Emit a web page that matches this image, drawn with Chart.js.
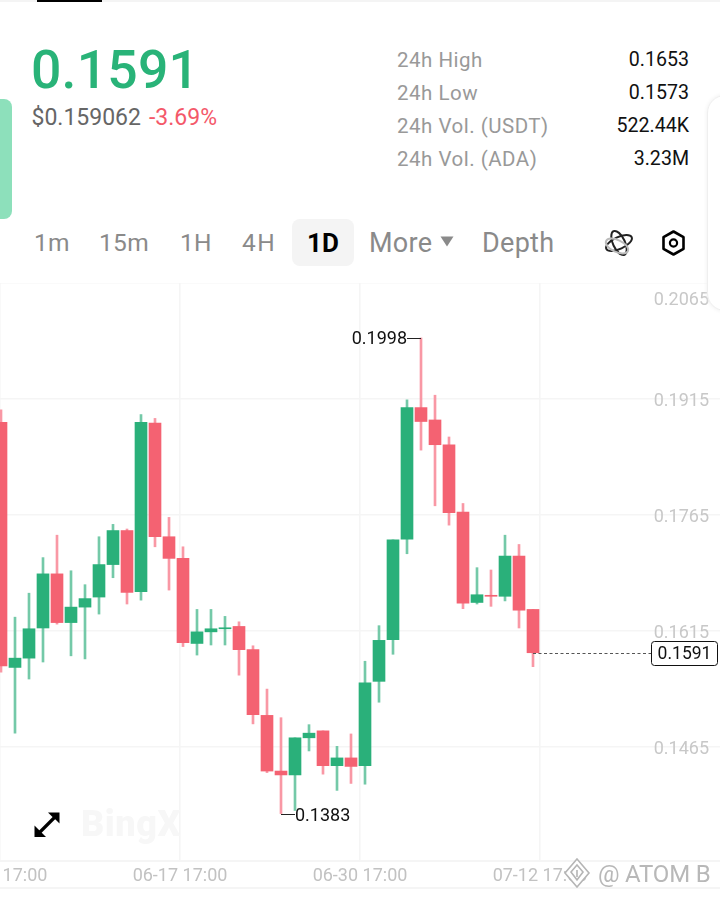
<!DOCTYPE html>
<html><head><meta charset="utf-8">
<script src="https://cdn.jsdelivr.net/npm/chart.js@4"></script>
<style>
html,body{margin:0;padding:0;background:#fff;width:720px;height:898px;overflow:hidden;font-family:Roboto,sans-serif}
.a{position:absolute;white-space:nowrap;line-height:1}
#wrap{position:absolute;left:0;top:283px;width:720px;height:604px}
.lab{left:397px;font-size:20.5px;color:#999;letter-spacing:.5px;transform:translateY(-50%)}
.val{right:31px;font-size:19.6px;color:#111;transform:translateY(-50%)}
.tab{top:243px;font-size:24.5px;color:#8a8a8a;letter-spacing:.3px;transform:translateY(-50%)}
.tab2{font-size:27px}
</style></head><body>
<div class="a" style="left:0;top:0;width:720px;height:2px;background:#f4f4f4"></div>
<div class="a" style="left:37px;top:0;width:65px;height:2px;background:#000"></div>
<div class="a" style="left:0;top:99px;width:12px;height:120px;background:#8de0bb;border-radius:0 8px 8px 0"></div>
<div class="a" style="left:31px;top:43px;font-size:53.5px;font-weight:500;color:#29b378;letter-spacing:.2px">0.1591</div>
<div class="a" style="left:31.5px;top:106px;font-size:23px;color:#666">$0.159062</div>
<div class="a" style="left:149px;top:106px;font-size:23px;color:#f4596a">-3.69%</div>
<div class="a lab" style="top:60px">24h High</div><div class="a val" style="top:60px">0.1653</div>
<div class="a lab" style="top:93px">24h Low</div><div class="a val" style="top:93px">0.1573</div>
<div class="a lab" style="top:126px">24h Vol. (USDT)</div><div class="a val" style="top:126px">522.44K</div>
<div class="a lab" style="top:159px">24h Vol. (ADA)</div><div class="a val" style="top:159px">3.23M</div>
<div class="a" style="left:292px;top:219px;width:62px;height:47px;background:#f4f4f4;border-radius:8px"></div>
<div class="a tab" style="left:34px">1m</div>
<div class="a tab" style="left:99px">15m</div>
<div class="a tab" style="left:180px">1H</div>
<div class="a tab" style="left:242px;letter-spacing:1.4px">4H</div>
<div class="a tab tab2" style="left:307px;color:#000;font-weight:700;letter-spacing:0;font-size:26px">1D</div>
<div class="a tab tab2" style="left:369px">More</div>
<svg class="a" style="left:440px;top:236px" width="14" height="11"><path d="M0.5 0.5H13.5L7 10.5Z" fill="#8a8a8a"/></svg>
<div class="a tab tab2" style="left:482px">Depth</div>
<svg class="a" style="left:603px;top:228px" width="32" height="32" viewBox="0 0 32 32" fill="none">
<ellipse cx="16" cy="15" rx="14" ry="6" transform="rotate(-25 16 15)" stroke="#222" stroke-width="2"/>
<ellipse cx="16" cy="15" rx="13" ry="6" transform="rotate(65 16 15)" stroke="#222" stroke-width="2"/>
<ellipse cx="14" cy="18" rx="12" ry="6" transform="rotate(25 14 18)" stroke="#bbb" stroke-width="2"/>
</svg>
<svg class="a" style="left:660px;top:229px" width="27" height="28" viewBox="0 0 27 28" fill="none">
<path d="M13.5 2.5L23.5 8.2V19.8L13.5 25.5L3.5 19.8V8.2Z" stroke="#000" stroke-width="2.6" stroke-linejoin="round"/>
<circle cx="13.5" cy="14" r="3.6" stroke="#000" stroke-width="2.2"/></svg>

<div id="wrap"><canvas id="c"></canvas></div>

<div class="a" style="left:0;top:887px;width:720px;height:2px;background:#f5f5f5"></div>
<div class="a" style="left:707px;top:95px;width:40px;height:214px;background:#fff;border:1.5px solid #efefef;border-radius:18px;box-shadow:0 0 4px #eee"></div>
<div class="a" style="left:81px;top:806px;font-size:36px;font-weight:900;color:#f7f7f7;letter-spacing:.6px">BingX</div>
<svg class="a" style="left:33px;top:811px" width="28" height="27" viewBox="0 0 28 27" fill="#000">
<path d="M5 23L24 4" stroke="#000" stroke-width="3.2" fill="none"/><path d="M15 1.5H26.5V12.5L22.5 8.5L19 5.5Z"/><path d="M1.5 14.5V26H13L9 22L5 18Z"/></svg>
<svg class="a" style="left:563px;top:858px" width="28" height="30" viewBox="0 0 28 30" fill="none" stroke="#b5b5b5" stroke-width="1.6">
<path d="M14 1L26 15L14 29L2 15Z" fill="#fff"/><path d="M14 7L20 14L14 22L8 14Z"/><path d="M14 12V19"/></svg>
<div class="a" style="left:598px;top:862px;font-size:24px;color:#b8b8b8;letter-spacing:-.2px">@ ATOM B</div>

<script>
const opens =[0.1889,0.1572,0.1584,0.1623,0.1693,0.1630,0.1650,0.1663,0.1705,0.1749,0.1670,0.1888,0.1741,0.1713,0.1603,0.1618,0.1622,0.1625,0.1595,0.1510,0.1438,0.1433,0.1481,0.1490,0.1445,0.1455,0.1445,0.1554,0.1608,0.1738,0.1908,0.1892,0.1860,0.1773,0.1656,0.1665,0.1664,0.1716,0.1647];
const highs =[0.1905,0.1637,0.1668,0.1714,0.1743,0.1697,0.1679,0.1741,0.1757,0.1751,0.1899,0.1894,0.1766,0.1728,0.1647,0.1647,0.1638,0.1631,0.1600,0.1544,0.1507,0.1481,0.1498,0.1490,0.1470,0.1486,0.1580,0.1626,0.1737,0.1918,0.1998,0.1924,0.1870,0.1784,0.1701,0.1698,0.1743,0.1731,0.1647];
const lows  =[0.1566,0.1487,0.1557,0.1579,0.1628,0.1587,0.1583,0.1641,0.1688,0.1654,0.1659,0.1728,0.1672,0.1599,0.1588,0.1601,0.1601,0.1562,0.1499,0.1436,0.1383,0.1387,0.1464,0.1434,0.1413,0.1422,0.1421,0.1527,0.1589,0.1719,0.1853,0.1781,0.1756,0.1648,0.1654,0.1651,0.1658,0.1623,0.1573];
const closes=[0.1574,0.1584,0.1622,0.1693,0.1630,0.1650,0.1661,0.1705,0.1749,0.1669,0.1889,0.1741,0.1713,0.1604,0.1618,0.1622,0.1623,0.1595,0.1511,0.1438,0.1433,0.1481,0.1487,0.1445,0.1455,0.1444,0.1552,0.1607,0.1737,0.1908,0.1890,0.1860,0.1772,0.1655,0.1666,0.1664,0.1716,0.1646,0.1591];
const yTickValues=[0.2069,0.1919,0.1769,0.1619,0.1469];
const yTickLabels=['0.2065','0.1915','0.1765','0.1615','0.1465'];
const xTickValues=[-0.0714,12.786,25.643,38.5];
const xTickLabels=['06-04 17:00','06-17 17:00','06-30 17:00','07-12 17:00'];
const lastPrice=0.1591, highValue=0.1998, lowValue=0.1383, highIndex=30, lowIndex=20;

const UP='#2ab07a',DOWN='#f46272',UPW='#74c9a8',DOWNW='#f998a5';
const idx=opens.map((_,i)=>i);
const isUp=i=>closes[i]>=opens[i];

const marks={id:'marks',afterDatasetsDraw(ch){
  const {ctx}=ch,x=ch.scales.x,y=ch.scales.y;
  ctx.save();
  ctx.font='18px Roboto';ctx.fillStyle='#111';ctx.strokeStyle='#222';ctx.lineWidth=1;ctx.textBaseline='middle';
  const py=Math.round(y.getPixelForValue(highValue))+.5,px=x.getPixelForValue(highIndex);
  ctx.beginPath();ctx.moveTo(px-14,py);ctx.lineTo(px,py);ctx.stroke();
  ctx.textAlign='right';ctx.fillText(highValue.toFixed(4),px-14,py+1);
  const qy=Math.round(y.getPixelForValue(lowValue))+.5,qx=x.getPixelForValue(lowIndex);
  ctx.beginPath();ctx.moveTo(qx,qy);ctx.lineTo(qx+14,qy);ctx.stroke();
  ctx.textAlign='left';ctx.fillText(lowValue.toFixed(4),qx+14,qy+2);
  const ly=Math.round(y.getPixelForValue(lastPrice))+.5,lx=x.getPixelForValue(closes.length-1);
  ctx.strokeStyle='#555';ctx.setLineDash([3,2.5]);
  ctx.beginPath();ctx.moveTo(lx,ly);ctx.lineTo(651,ly);ctx.stroke();ctx.setLineDash([]);
  ctx.fillStyle='#fff';ctx.strokeStyle='#111';
  ctx.beginPath();ctx.roundRect(651.5,ly-12,66,24,3);ctx.fill();ctx.stroke();
  ctx.fillStyle='#111';ctx.textAlign='center';ctx.font='17.5px Roboto';ctx.fillText(lastPrice.toFixed(4),684.5,ly+1);
  ctx.restore();
}};

new Chart(document.getElementById('c'),{
  type:'bar',
  data:{datasets:[
    {label:'Wick',data:idx.map(i=>({x:i,y:[lows[i],highs[i]]})),backgroundColor:idx.map(i=>isUp(i)?UPW:DOWNW),barThickness:2,grouped:false,order:2},
    {label:'Body',data:idx.map(i=>({x:i,y:[opens[i],closes[i]]})),backgroundColor:idx.map(i=>isUp(i)?UP:DOWN),barThickness:12,minBarLength:1,grouped:false,order:1}
  ]},
  options:{
    responsive:true,maintainAspectRatio:false,animation:false,
    layout:{padding:0},
    plugins:{legend:{display:false},tooltip:{enabled:false}},
    scales:{
      x:{type:'linear',min:-0.0714,max:51.357,offset:false,
        grid:{color:'#f5f5f5',lineWidth:1.6,drawTicks:false,offset:false},
        border:{display:true,color:'#f5f5f5',width:2},
        afterBuildTicks(s){s.ticks=xTickValues.map(v=>({value:v}));},
        afterFit(s){s.height=26;s.paddingLeft=0;s.paddingRight=0;},
        ticks:{autoSkip:false,maxRotation:0,padding:5,color:'#c2c2c2',font:{family:'Roboto',size:18},
          callback:(v,i)=>xTickLabels[i]}
      },
      y:{type:'linear',position:'right',min:0.13217,max:0.20691,
        grid:{color:'#f5f5f5',lineWidth:1.6,drawTicks:false},
        border:{display:false},
        afterBuildTicks(s){s.ticks=yTickValues.map(v=>({value:v}));},
        afterFit(s){s.width=0;s.paddingTop=0;s.paddingBottom=0;},
        ticks:{mirror:true,padding:-11,labelOffset:2,color:'#c8c8c8',font:{family:'Roboto',size:18,lineHeight:0.86},
          callback:(v,i)=>i===0?['','',yTickLabels[i]]:yTickLabels[i]}
      }
    }
  },
  plugins:[marks]
});
</script>
</body></html>
